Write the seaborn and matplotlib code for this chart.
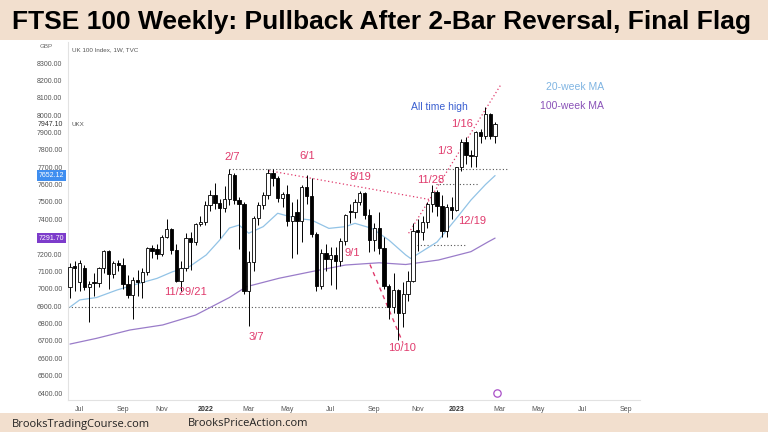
import pandas as pd
import matplotlib
matplotlib.use('Agg')
import matplotlib.pyplot as plt
import matplotlib.transforms as mtransforms
from matplotlib.patches import Rectangle
import seaborn as sns

# Weekly FTSE 100 candles, first bar = week of 2021-06-21
first_week = pd.Timestamp('2021-06-21')
opens = [7012, 7130, 7040, 7118, 7008, 7042, 7032, 7118, 7218, 7087, 7148, 7138, 7029, 6963,
         7051, 7040, 7095, 7234, 7230, 7200, 7300, 7343, 7223, 7044, 7120, 7291, 7270, 7373,
         7385, 7485, 7543, 7494, 7466, 7516, 7655, 7513, 7489, 6987, 7156, 7405, 7483, 7538,
         7669, 7640, 7521, 7545, 7388, 7440, 7390, 7585, 7533, 7318, 7016, 7208, 7169, 7196,
         7159, 7276, 7448, 7440, 7500, 7550, 7427, 7281, 7351, 7236, 7019, 6894, 6991, 6858,
         6970, 7047, 7340, 7329, 7385, 7486, 7556, 7476, 7332, 7473, 7455, 7699, 7844, 7770,
         7765, 7902, 7882, 8004, 7878]
highs = [7150, 7160, 7165, 7140, 7045, 7090, 7125, 7225, 7225, 7160, 7165, 7180, 7080, 7070,
         7110, 7120, 7240, 7250, 7260, 7310, 7400, 7350, 7260, 7160, 7320, 7330, 7380, 7420,
         7505, 7570, 7610, 7520, 7590, 7690, 7665, 7530, 7500, 7220, 7420, 7500, 7560, 7690,
         7690, 7650, 7560, 7600, 7500, 7520, 7600, 7655, 7640, 7330, 7230, 7260, 7240, 7240,
         7290, 7430, 7490, 7520, 7564, 7560, 7460, 7380, 7440, 7300, 7030, 7090, 7000, 7040,
         7100, 7380, 7400, 7420, 7500, 7600, 7570, 7540, 7490, 7530, 7700, 7860, 7876, 7800,
         7910, 7920, 8047, 8015, 7960]
lows = [6946, 6990, 6990, 6995, 6811, 6960, 7010, 7090, 7000, 7060, 7100, 7000, 6950, 6824,
        6960, 6950, 7080, 7180, 7170, 7190, 7290, 7200, 7040, 6990, 7100, 7110, 7250, 7360,
        7370, 7450, 7460, 7290, 7440, 7480, 7490, 7230, 6970, 6786, 7100, 7370, 7460, 7520,
        7590, 7500, 7470, 7360, 7180, 7200, 7270, 7490, 7300, 6990, 7000, 7100, 7020, 7000,
        7130, 7250, 7380, 7410, 7480, 7400, 7210, 7220, 7200, 7000, 6826, 6860, 6708, 6780,
        6930, 7040, 7220, 7280, 7350, 7440, 7420, 7300, 7300, 7400, 7450, 7680, 7720, 7700,
        7700, 7840, 7860, 7860, 7840]
closes = [7127, 7122, 7150, 7008, 7030, 7032, 7118, 7218, 7087, 7148, 7138, 7029, 6963, 7051,
          7040, 7095, 7234, 7220, 7200, 7300, 7343, 7223, 7044, 7120, 7291, 7270, 7373, 7385,
          7485, 7543, 7494, 7466, 7516, 7661, 7513, 7489, 6987, 7156, 7405, 7483, 7538, 7669,
          7640, 7521, 7545, 7388, 7418, 7390, 7585, 7533, 7318, 7016, 7208, 7169, 7196, 7159,
          7276, 7423, 7440, 7500, 7550, 7427, 7281, 7351, 7236, 7019, 6894, 6991, 6858, 6970,
          7047, 7334, 7329, 7385, 7486, 7556, 7476, 7332, 7473, 7455, 7699, 7844, 7770, 7765,
          7902, 7882, 8004, 7878, 7947]

# moving averages (week index, price)
ma20_week = [0, 2, 5.5, 9.7, 14.4, 18, 21.2, 24.7, 28.2, 31, 33, 35, 37, 40, 43, 46.8, 50,
             53.6, 57, 59, 62.5, 66, 69.5, 70.5, 72, 76, 80, 83, 86, 88]
ma20_value = [6895, 6936, 6950, 6993, 7032, 7060, 7098, 7127, 7195, 7281, 7350, 7367, 7320,
              7358, 7435, 7406, 7396, 7348, 7358, 7377, 7348, 7281, 7195, 7175, 7200, 7270,
              7406, 7511, 7600, 7652]
ma100_week = [0, 5.5, 12.4, 19.2, 26, 33, 36.5, 43.3, 50, 57, 64, 69.5, 76.3, 83, 86.6, 88]
ma100_value = [6682, 6715, 6763, 6792, 6849, 6950, 7012, 7061, 7099, 7137, 7150, 7140, 7166,
               7214, 7271, 7292]

# x axis month labels (placed at first weekly bar of the month)
month_labels = ['Jul', 'Sep', 'Nov', '2022', 'Mar', 'May', 'Jul', 'Sep', 'Nov', '2023',
                'Mar', 'May', 'Jul', 'Sep']
month_starts = ['2021-07-01', '2021-09-01', '2021-11-01', '2022-01-01', '2022-03-01',
                '2022-05-01', '2022-07-01', '2022-09-01', '2022-11-01', '2023-01-01',
                '2023-03-01', '2023-05-01', '2023-07-01', '2023-09-01']

# annotation levels and trendlines
hline_price = [7690, 6897, 7605, 7250]
hline_start = [33, -0.5, 75.7, 71.8]
hline_end = [90.7, 66.4, 84.5, 81.9]
trend_dotted = [((41.2, 7680), (75.7, 7508)), ((70.1, 7320), (89.3, 8180))]
trend_dashed = [((62.1, 7140), (68.9, 6690))]

swing_labels = ['2/7', '6/1', '8/19', '11/29/21', '3/7', '9/1', '10/10', '11/28', '12/19',
                '1/3', '1/16']
swing_x = [33.6, 49.1, 60.2, 23.9, 38.6, 58.4, 68.7, 74.6, 83.3, 77.6, 81.1]
swing_y = [7759, 7765, 7644, 6982, 6723, 7206, 6659, 7627, 7390, 7793, 7949]

PINK = '#e03a6c'
TAN = '#f2dfce'

df = pd.DataFrame({'open': opens, 'high': highs, 'low': lows, 'close': closes})
df['week'] = range(len(df))
df['up'] = df['close'] >= df['open']

sns.set_style('white')
plt.rcParams['font.family'] = ['Liberation Sans', 'DejaVu Sans']

fig = plt.figure(figsize=(7.68, 4.32), dpi=100)
fig.patch.set_facecolor(TAN)
fig.add_artist(Rectangle((0, 19 / 432), 1, 373 / 432, transform=fig.transFigure,
                         facecolor='white', edgecolor='none', zorder=0))

ax = fig.add_axes([68 / 768, 32 / 432, 572 / 768, 358 / 432])
ax.set_facecolor('none')

# moving averages
sns.lineplot(x=ma20_week, y=ma20_value, ax=ax, color='#92c3e6', linewidth=0.9, zorder=2)
sns.lineplot(x=ma100_week, y=ma100_value, ax=ax, color='#9a7cc9', linewidth=0.9, zorder=2)

# candles
ax.vlines(df['week'], df['low'], df['high'], color='black', linewidth=0.7, zorder=3)
body_low = df[['open', 'close']].min(axis=1)
body_h = (df['close'] - df['open']).abs().clip(lower=6)
ax.bar(df['week'], body_h, bottom=body_low, width=0.68,
       color=['white' if u else 'black' for u in df['up']],
       edgecolor='black', linewidth=0.6, zorder=4)

# horizontal levels
for p, s, e in zip(hline_price, hline_start, hline_end):
    ax.plot([s, e], [p, p], color='#555555', linewidth=0.8, linestyle=(0, (1, 2)), zorder=1)
for (x0, y0), (x1, y1) in trend_dotted:
    ax.plot([x0, x1], [y0, y1], color=PINK, linewidth=0.9, linestyle=(0, (1, 2)), zorder=1)
for (x0, y0), (x1, y1) in trend_dashed:
    ax.plot([x0, x1], [y0, y1], color=PINK, linewidth=1.0, linestyle=(0, (3, 3)), zorder=1)

for lab, x, y in zip(swing_labels, swing_x, swing_y):
    ax.text(x, y, lab, color=PINK, fontsize=8, ha='center', va='center')
ax.text(76.4, 8047, 'All time high', color='#3a5fd0', fontsize=7.5, ha='center', va='center')
ax.text(104.5, 8162, '20-week MA', color='#7fb4e2', fontsize=7.5, ha='center', va='center')
ax.text(103.9, 8052, '100-week MA', color='#8a52b8', fontsize=7.5, ha='center', va='center')

ax.scatter([88.4], [6400], s=28, facecolors='white', edgecolors='#a94fc8', linewidths=0.9,
           zorder=5)

# axes
ax.set_xlim(-0.41, 118.0)
ax.set_ylim(6360, 8421)
yt = [v for v in range(6400, 8301, 100) if v != 7300]
ax.set_yticks(yt)
ax.set_yticklabels([f'{v:.2f}' for v in yt])
tick_pos = []
for m in month_starts:
    d = pd.Timestamp(m)
    d = d + pd.Timedelta(days=(7 - d.weekday()) % 7)
    tick_pos.append((d - first_week).days / 7)
ax.set_xticks(tick_pos)
ax.set_xticklabels(month_labels)
ax.tick_params(axis='both', length=0, labelsize=5, labelcolor='#555555')
ax.tick_params(axis='y', pad=4)
ax.tick_params(axis='x', pad=4)
for t in ax.get_xticklabels():
    if t.get_text() in ('2022', '2023'):
        t.set_fontweight('bold')
        t.set_color('#333333')
for side in ['top', 'right']:
    ax.spines[side].set_visible(False)
for side in ['left', 'bottom']:
    ax.spines[side].set_color('#e2e2e2')
    ax.spines[side].set_linewidth(0.8)

trans = mtransforms.blended_transform_factory(ax.transAxes, ax.transData)
ax.text(-0.008, 7947, '7947.10', transform=trans, ha='right', va='center', fontsize=5,
        color='#333333')
ax.text(-0.006, 7652, '7652.12', transform=trans, ha='right', va='center', fontsize=5,
        color='white', bbox=dict(boxstyle='square,pad=0.25', facecolor='#3f8ef0',
                                 edgecolor='none'))
ax.text(-0.006, 7292, '7291.70', transform=trans, ha='right', va='center', fontsize=5,
        color='white', bbox=dict(boxstyle='square,pad=0.25', facecolor='#7d3ccb',
                                 edgecolor='none'))

fig.text(40 / 768, 1 - 47 / 432, 'GBP', fontsize=4.5, color='#666666', va='center')
fig.text(72 / 768, 1 - 50 / 432, 'UK 100 Index, 1W, TVC', fontsize=4.5, color='#555555',
         va='center')
fig.text(72 / 768, 1 - 124 / 432, 'UKX', fontsize=4.5, color='#555555', va='center')

fig.text(12 / 768, 1 - 22 / 432, 'FTSE 100 Weekly: Pullback After 2-Bar Reversal, Final Flag',
         fontsize=19, fontweight='bold', color='black', va='center',
         family=['Liberation Sans Narrow', 'Liberation Sans', 'DejaVu Sans'])
fig.text(12 / 768, 1 - 424 / 432, 'BrooksTradingCourse.com', fontsize=8, color='#222222',
         va='center', family=['Open Sans', 'DejaVu Sans'])
fig.text(188 / 768, 1 - 424 / 432, 'BrooksPriceAction.com', fontsize=8, color='#222222',
         va='center', family=['Open Sans', 'DejaVu Sans'])

fig.savefig('out.png', dpi=100, facecolor=fig.get_facecolor())
